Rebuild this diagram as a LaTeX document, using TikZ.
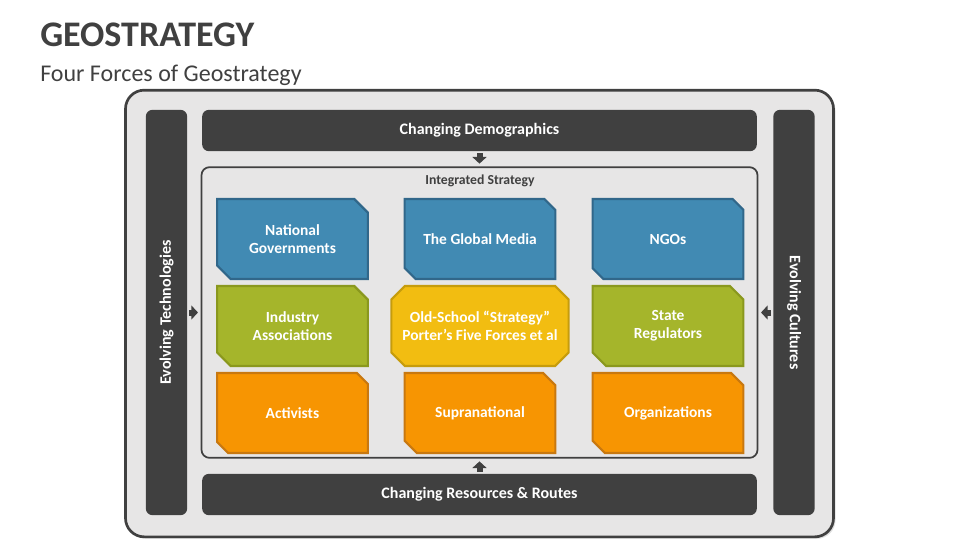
\documentclass[tikz,border=0pt]{standalone}
\usepackage{fontspec}
\setmainfont{Carlito}
\usetikzlibrary{arrows.meta,positioning,shapes.misc,shadows}
\definecolor{GeoDark}{HTML}{404040}
\definecolor{GeoPanel}{HTML}{E7E6E6}
\definecolor{GeoBlue}{HTML}{418AB3}
\definecolor{GeoBlueLine}{HTML}{31678A}
\definecolor{GeoGreen}{HTML}{A5B52B}
\definecolor{GeoGreenLine}{HTML}{8A981E}
\definecolor{GeoYellow}{HTML}{F2BD11}
\definecolor{GeoYellowLine}{HTML}{C69C0C}
\definecolor{GeoOrange}{HTML}{F79502}
\definecolor{GeoOrangeLine}{HTML}{C87810}
\tikzset{
  figtitle/.style={font=\fontsize{27}{32}\selectfont\bfseries\color{GeoDark}, anchor=base west, inner sep=0pt},
  figsub/.style={font=\fontsize{18}{21}\selectfont\color{GeoDark}, anchor=base west, inner sep=0pt},
  forcebar/.style={fill=GeoDark, rounded corners=5pt, text=white, align=center,
                   font=\fontsize{12}{14}\selectfont\bfseries},
  actor/.style={chamfered rectangle, chamfered rectangle corners={north east,south west},
                chamfered rectangle xsep=7pt, minimum width=113pt, minimum height=60pt,
                inner sep=1pt, line width=1.6pt, text=white, align=center,
                font=\fontsize{11.6}{13.5}\selectfont\bfseries},
  govt/.style={actor, fill=GeoBlue, draw=GeoBlueLine},
  assoc/.style={actor, fill=GeoGreen, draw=GeoGreenLine},
  grass/.style={actor, fill=GeoOrange, draw=GeoOrangeLine},
  core/.style={actor, chamfered rectangle corners={north east,south west,north west,south east},
               minimum width=133pt, fill=GeoYellow, draw=GeoYellowLine},
  push/.style={-{Triangle[width=10.5pt,length=5pt]}, line width=4.5pt, GeoDark,
               shorten <=1.5pt, shorten >=2pt},
}

\begin{document}
\begin{tikzpicture}[x=0.75pt, y=-0.75pt]
  \useasboundingbox (0,0) rectangle (960,540);

  \node[figtitle] (title) at (40,46) {GEOSTRATEGY};
  \node[figsub] (subtitle) at (40,81) {Four Forces of Geostrategy};

  % frame and the four outer forces
  \node[draw=GeoDark, fill=GeoPanel, line width=2pt, rounded corners=14pt,
        minimum width=531pt, minimum height=335pt,
        drop shadow={opacity=0.25, shadow xshift=1.5pt, shadow yshift=-1.5pt}]
        (frame) at (479.5,313.5) {};
  \node[forcebar, minimum width=31pt, minimum height=304pt] (tech) at (166.5,312.5) {};
  \node[forcebar, rotate=90] at (tech.center) {Evolving Technologies};
  \node[forcebar, minimum width=31pt, minimum height=304pt] (cult) at (794,312.5) {};
  \node[forcebar, rotate=-90] at (cult.center) {Evolving Cultures};
  \node[forcebar, minimum width=416pt, minimum height=31pt] (demog) at (479.5,130.5) {Changing Demographics};
  \node[forcebar, minimum width=416pt, minimum height=31pt] (routes) at (479.5,494.5) {Changing Resources \& Routes};

  \node[draw=GeoDark, fill=GeoPanel, line width=1.3pt, rounded corners=6pt,
        minimum width=417pt, minimum height=218pt] (inner) at (479.5,312.5) {};
  \node[font=\fontsize{10.3}{12}\selectfont\bfseries, text=GeoDark] (intlabel) at (480,181) {Integrated Strategy};

  % actors
  \node[govt] (natgov) at (292.5,239) {National\\Governments};
  \node[govt] (media)  at (480,239)   {The Global Media};
  \node[govt] (ngo)    at (668,239)   {NGOs};
  \node[assoc] (industry) at (292.5,326) {Industry\\Associations};
  \node[core]  (oldschool) at (480,326)  {Old-School \textquotedblleft Strategy\textquotedblright\\Porter\textquoteright s Five Forces et al};
  \node[assoc] (regul) at (668,326) {State\\Regulators};
  \node[grass] (activ) at (292.5,413) {Activists};
  \node[grass] (supra) at (480,413)   {Supranational};
  \node[grass] (orgs)  at (668,413)   {Organizations};

  % forces pressing on the strategy
  \draw[push] (demog.south) -- (demog.south |- inner.north);
  \draw[push] (routes.north) -- (routes.north |- inner.south);
  \draw[push] (tech.east) -- (tech.east -| inner.west);
  \draw[push] (cult.west) -- (cult.west -| inner.east);
\end{tikzpicture}
\end{document}
